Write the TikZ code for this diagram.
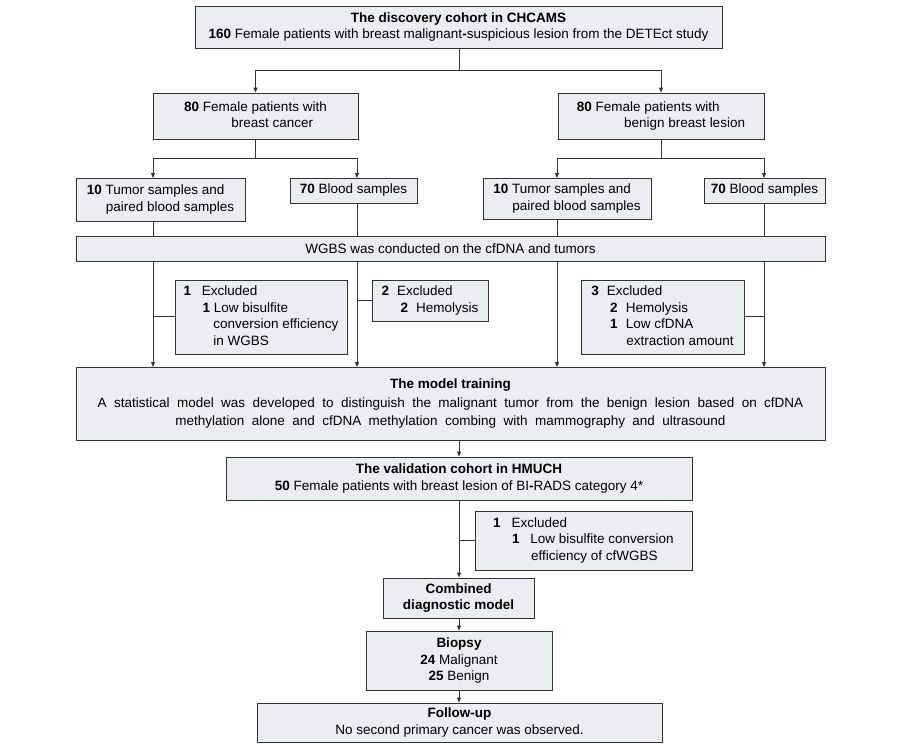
\documentclass[tikz,border=0pt]{standalone}
\usepackage{fontspec}
\setmainfont{Liberation Sans}
\usetikzlibrary{arrows.meta}
\definecolor{bx}{HTML}{E9EEF1}
\definecolor{ln}{HTML}{333333}
\begin{document}
\begin{tikzpicture}[x=1pt,y=-1pt,
  box/.style={draw=ln,fill=bx,line width=0.9pt,inner sep=0pt,font=\fontsize{13.5}{16.5}\selectfont},
  ar/.style={draw=ln,line width=0.9pt,-{Triangle[length=5pt,width=4pt]}},
  l/.style={draw=ln,line width=0.9pt}]
\useasboundingbox (0,0) rectangle (918,748);
\fill[white] (0,0) rectangle (918,748);
\newcommand{\bx}[5]{\node[box,minimum width=#3-#1,minimum height=#4-#2,align=center] (#5) at ({(#1+#3)/2},{(#2+#4)/2})}
\bx{195}{6}{722}{48}{top} {\textbf{The discovery cohort in CHCAMS}\\\textbf{160} Female patients with breast malignant\textbf{-}suspicious lesion from the DETEct study};
\bx{153}{93}{358}{139}{bc} {\begin{tabular}{@{}l@{}}\textbf{80} Female patients with\\\hspace{3.5em}breast cancer\end{tabular}};
\bx{558}{93}{764}{139}{bl} {\begin{tabular}{@{}l@{}}\textbf{80} Female patients with\\\hspace{3.5em}benign breast lesion\end{tabular}};
\bx{76}{178}{245}{221}{lt} {\begin{tabular}{@{}l@{}}\textbf{10} Tumor samples and\\\hspace{1.4em}paired blood samples\end{tabular}};
\bx{290}{178}{417}{203}{lb} {\textbf{70} Blood samples};
\bx{483}{178}{651}{219}{rt} {\begin{tabular}{@{}l@{}}\textbf{10} Tumor samples and\\\hspace{1.4em}paired blood samples\end{tabular}};
\bx{704}{178}{825}{203}{rb} {\textbf{70} Blood samples};
\bx{76}{236}{825}{261}{wg} {WGBS was conducted on the cfDNA and tumors};
\bx{175}{280}{347}{354}{e1} {\begin{tabular}{@{}l@{}}\textbf{1}\hspace{0.8em}Excluded\\\hspace{1.4em}\textbf{1} Low bisulfite\\\hspace{2.2em}conversion efficiency\\\hspace{2.2em}in WGBS\end{tabular}};
\bx{372}{280}{488}{321}{e2} {\begin{tabular}{@{}l@{}}\textbf{2}\hspace{0.6em}Excluded\\\hspace{1.4em}\textbf{2}\hspace{0.6em}Hemolysis\end{tabular}};
\bx{581}{280}{744}{354}{e3} {\begin{tabular}{@{}l@{}}\textbf{3}\hspace{0.6em}Excluded\\\hspace{1.4em}\textbf{2}\hspace{0.6em}Hemolysis\\\hspace{1.4em}\textbf{1}\hspace{0.6em}Low cfDNA\\\hspace{2.6em}extraction amount\end{tabular}};
\bx{76}{367}{825}{440}{mt} {\begin{tabular}{@{}c@{}}\textbf{The model training}\\[3pt]
 \spaceskip=0.55em plus 0.1em A statistical model was developed to distinguish the malignant tumor from the benign lesion based on cfDNA\\[1pt]
 \spaceskip=0.55em plus 0.1em methylation alone and cfDNA methylation combing with mammography and ultrasound\end{tabular}};
\bx{226}{457}{692}{500}{vc} {\textbf{The validation cohort in HMUCH}\\\textbf{50} Female patients with breast lesion of BI\textbf{-}RADS category 4*};
\bx{475}{511}{692}{570}{e4} {\begin{tabular}{@{}l@{}}\textbf{1}\hspace{0.8em}Excluded\\\hspace{1.4em}\textbf{1}\hspace{0.8em}Low bisulfite conversion\\\hspace{2.8em}efficiency of cfWGBS\end{tabular}};
\bx{383}{578}{534}{618}{cm} {\textbf{Combined}\\\textbf{diagnostic model}};
\bx{366}{631}{552}{690}{bp} {\textbf{Biopsy}\\\textbf{24} Malignant\\\textbf{25} Benign};
\bx{257}{703}{662}{742}{fu} {\textbf{Follow-up}\\No second primary cancer was observed.};
% connectors
\coordinate (j1) at (459,70);
\draw[l] (459,48) -- (j1);
\draw[ar] (j1) -| (bc.north);
\draw[ar] (j1) -| (bl.north);
\coordinate (j2) at (255.5,158);
\draw[l] (bc.south) -- (j2);
\draw[ar] (j2) -| (153,178);
\draw[ar] (j2) -| (357,178);
\coordinate (j3) at (661,158);
\draw[l] (bl.south) -- (j3);
\draw[ar] (j3) -| (557,178);
\draw[ar] (j3) -| (764,178);
\draw[l] (153,221) -- (153,236);
\draw[l] (357,203) -- (357,236);
\draw[l] (557,219) -- (557,236);
\draw[l] (764,203) -- (764,236);
\foreach \xx in {153,357,557,764} \draw[ar] (\xx,261) -- (\xx,367);
\draw[l] (153,316) -- (e1.west |- 0,316);
\draw[l] (357,300) -- (e2.west |- 0,300);
\draw[l] (764,316) -- (e3.east |- 0,316);
\draw[ar] (mt.south -| vc.north) -- (vc.north);
\coordinate (j4) at (459,540);
\draw[ar] (vc.south) -- (cm.north -| vc.south);
\draw[l] (j4) -- (e4.west |- j4);
\draw[ar] (cm.south -| bp.north) -- (bp.north);
\draw[ar] (bp.south) -- (fu.north -| bp.south);
\end{tikzpicture}
\end{document}
